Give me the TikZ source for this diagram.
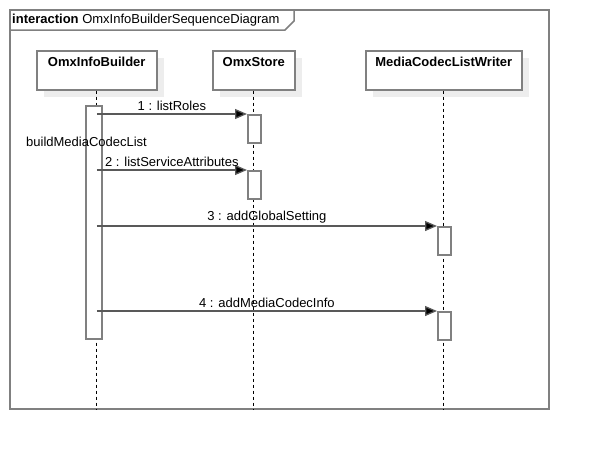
\documentclass[tikz,border=0pt]{standalone}
\usepackage{fontspec}
\setmainfont{Liberation Sans}
\usetikzlibrary{arrows.meta,shadows}

\begin{document}
\begin{tikzpicture}[x=1pt,y=-1pt,
    font=\fontsize{13}{15}\selectfont,
    frameline/.style={draw=black!50,line width=1.5pt},
    lifebox/.style={frameline,fill=white,anchor=north west,minimum height=39pt,inner sep=0pt,
        drop shadow={shadow xshift=7pt,shadow yshift=-7pt,fill=black!7,opacity=1}},
    boxtitle/.style={anchor=north,yshift=-3.5pt,font=\fontsize{13}{15}\selectfont\bfseries},
    lifeline/.style={dash pattern=on 3pt off 3pt,line width=0.8pt},
    actbar/.style={frameline,fill=white,anchor=north west,inner sep=0pt,minimum width=13pt,minimum height=28pt},
    msg/.style={draw=black!65,line width=1.3pt,-{Triangle[length=12pt,width=10pt,fill=black]}},
    msglabel/.style={above,inner sep=2.5pt}]

\useasboundingbox (0,0) rectangle (589,450);

% Interaction frame.
\draw[frameline] (10,10) rectangle (549,409);
\coordinate (frameSE) at (549,409);
\draw[frameline] (10,30) -- (285,30) -- (294,21) -- (294,10);
\node[anchor=west,inner sep=0pt] (title) at (12,20) {\textbf{interaction} OmxInfoBuilderSequenceDiagram};

% Lifeline heads.
\node[lifebox,minimum width=120pt,label={[boxtitle]north:OmxInfoBuilder}] (builder) at (36,50) {};
\node[lifebox,minimum width=82pt,label={[boxtitle]north:OmxStore}] (store) at (212,50) {};
\node[lifebox,minimum width=156pt,label={[boxtitle]north:MediaCodecListWriter}] (writer) at (365,50) {};

% Dashed lifelines down to the frame.
\foreach \l in {builder,store,writer} {
    \draw[lifeline] (\l.south) -- (\l.south |- frameSE);
}

% Activation bars.
\node[actbar,minimum width=16pt,minimum height=233pt] (buildBar) at (85,105) {};
\node[actbar] (storeBarA) at (247,114) {};
\node[actbar] (storeBarB) at (247,170) {};
\node[actbar] (writerBarA) at (437,226) {};
\node[actbar] (writerBarB) at (437,311) {};

\node (buildLabel) at (86.5,142) {buildMediaCodecList};

% Messages. Loop for each call.
\foreach \b/\t in {storeBarA/1 : listRoles,storeBarB/2 : listServiceAttributes,
    writerBarA/3 : addGlobalSetting,writerBarB/4 : addMediaCodecInfo} {
    \draw[msg]
        (builder.south |- \b.north west) -- (\b.north west)
        node[msglabel,midway] {\t};
}
\end{tikzpicture}
\end{document}
